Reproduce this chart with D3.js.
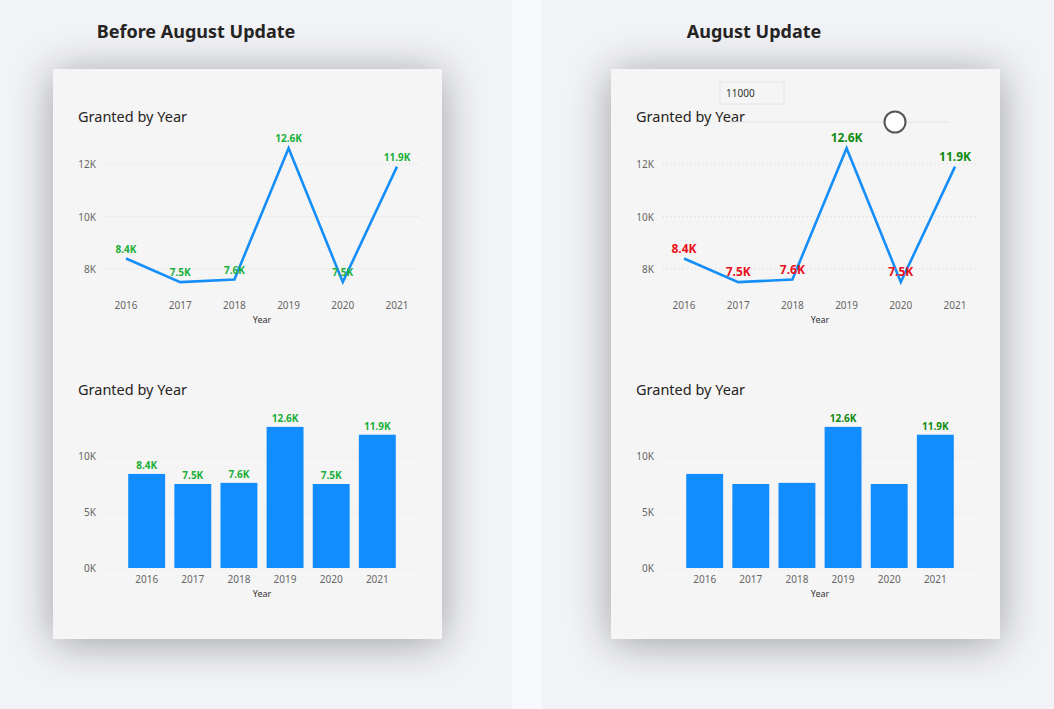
<!DOCTYPE html>
<html><head><meta charset="utf-8">
<script src="https://cdn.jsdelivr.net/npm/d3@7"></script>
<style>body{margin:0;font-family:"Noto Sans",sans-serif;}</style>
</head><body>
<svg id="chart" width="1054" height="709"></svg>
<script>
const years = ["2016", "2017", "2018", "2019", "2020", "2021"];
const granted = [8400, 7500, 7600, 12600, 7500, 11900];
const lineTicks = [8000, 10000, 12000];
const barTicks = [0, 5000, 10000];
const threshold = 11000;

const svg = d3.select("#chart");
const fmtK = v => (v / 1000).toFixed(1) + "K";
const tickK = v => (v / 1000) + "K";

// backgrounds
svg.append("rect").attr("width", 1054).attr("height", 709).attr("fill", "#f2f3f7");
svg.append("rect").attr("x", 512).attr("width", 30).attr("height", 709).attr("fill", "#f8f9fc");

const defs = svg.append("defs");
const f = defs.append("filter").attr("id", "shadow").attr("x", "-30%").attr("y", "-30%").attr("width", "160%").attr("height", "160%");
f.append("feDropShadow").attr("dx", 0).attr("dy", 4).attr("stdDeviation", 22).attr("flood-color", "#000").attr("flood-opacity", 0.35);

function drawCard(ox, title, after) {
  svg.append("text").attr("x", ox + 196).attr("y", 38).attr("text-anchor", "middle")
    .attr("font-size", 18).attr("font-weight", "bold").attr("fill", "#252423").text(title);
  svg.append("rect").attr("x", ox + 53).attr("y", 69).attr("width", 389).attr("height", 570)
    .attr("fill", "#f5f5f5").attr("filter", "url(#shadow)");

  const g = svg.append("g").attr("transform", `translate(${ox},0)`);
  const x = d3.scalePoint().domain(years).range([126, 397]);
  const y = d3.scaleLinear().domain([8000, 12000]).range([269, 164]);
  const colorOf = v => after ? (v >= threshold ? "#118a11" : "#e8101a") : "#1aaf3a";

  g.append("text").attr("x", 78).attr("y", 122).attr("font-size", 14.5).attr("fill", "#252423").text("Granted by Year");

  // line chart
  g.selectAll(".lg").data(lineTicks).join("line")
    .attr("x1", 105).attr("x2", 420).attr("y1", d => y(d)).attr("y2", d => y(d))
    .attr("stroke", "#d8d8d8").attr("stroke-dasharray", "1,3");
  g.selectAll(".lt").data(lineTicks).join("text")
    .attr("x", 96).attr("y", d => y(d) + 4).attr("text-anchor", "end")
    .attr("font-size", 10).attr("fill", "#666").text(tickK);
  g.append("path").datum(granted)
    .attr("d", d3.line().x((d, i) => x(years[i])).y(d => y(d)))
    .attr("fill", "none").attr("stroke", "#168ef7").attr("stroke-width", 2.6);
  g.selectAll(".ll").data(granted).join("text")
    .attr("x", (d, i) => x(years[i])).attr("y", d => y(d) - 6).attr("text-anchor", "middle")
    .attr("font-size", after ? 12 : 10).attr("font-weight", "bold").attr("fill", colorOf).text(fmtK);
  g.selectAll(".lx").data(years).join("text")
    .attr("x", d => x(d)).attr("y", 309).attr("text-anchor", "middle")
    .attr("font-size", 10).attr("fill", "#666").text(d => d);
  g.append("text").attr("x", 262).attr("y", 323).attr("text-anchor", "middle")
    .attr("font-size", 9).attr("fill", "#333").text("Year");

  // bar chart
  g.append("text").attr("x", 78).attr("y", 395).attr("font-size", 14.5).attr("fill", "#252423").text("Granted by Year");
  const xb = d3.scaleBand().domain(years).range([119, 405]).padding(0.2);
  const yb = d3.scaleLinear().domain([0, 10000]).range([568, 456]);
  g.selectAll(".bg").data(barTicks).join("line")
    .attr("x1", 105).attr("x2", 420).attr("y1", d => yb(d)).attr("y2", d => yb(d))
    .attr("stroke", "#d8d8d8").attr("stroke-dasharray", "1,3");
  g.selectAll(".bt").data(barTicks).join("text")
    .attr("x", 96).attr("y", d => yb(d) + 4).attr("text-anchor", "end")
    .attr("font-size", 10).attr("fill", "#666").text(tickK);
  g.selectAll(".b").data(granted).join("rect")
    .attr("x", (d, i) => xb(years[i])).attr("width", xb.bandwidth())
    .attr("y", d => yb(d)).attr("height", d => yb(0) - yb(d)).attr("fill", "#118dff");
  g.selectAll(".bl").data(granted.map((v, i) => ({ v, yr: years[i] })).filter(d => !after || d.v >= threshold))
    .join("text")
    .attr("x", d => xb(d.yr) + xb.bandwidth() / 2).attr("y", d => yb(d.v) - 5).attr("text-anchor", "middle")
    .attr("font-size", 10).attr("font-weight", "bold").attr("fill", d => colorOf(d.v)).text(d => fmtK(d.v));
  g.selectAll(".bx").data(years).join("text")
    .attr("x", d => xb(d) + xb.bandwidth() / 2).attr("y", 583).attr("text-anchor", "middle")
    .attr("font-size", 10).attr("fill", "#666").text(d => d);
  g.append("text").attr("x", 262).attr("y", 597).attr("text-anchor", "middle")
    .attr("font-size", 9).attr("fill", "#333").text("Year");

  if (after) {
    // threshold slider
    g.append("rect").attr("x", 162).attr("y", 82).attr("width", 64).attr("height", 22)
      .attr("fill", "#f5f5f5").attr("stroke", "#e6e6e6");
    g.append("text").attr("x", 168).attr("y", 97).attr("font-size", 10).attr("fill", "#333").text(threshold);
    g.append("line").attr("x1", 172).attr("x2", 390).attr("y1", 122).attr("y2", 122).attr("stroke", "#e4e4e4");
    g.append("circle").attr("cx", 337).attr("cy", 122).attr("r", 10.5)
      .attr("fill", "#fff").attr("stroke", "#555").attr("stroke-width", 2);
  }
}

drawCard(0, "Before August Update", false);
drawCard(558, "August Update", true);
</script>
</body></html>
